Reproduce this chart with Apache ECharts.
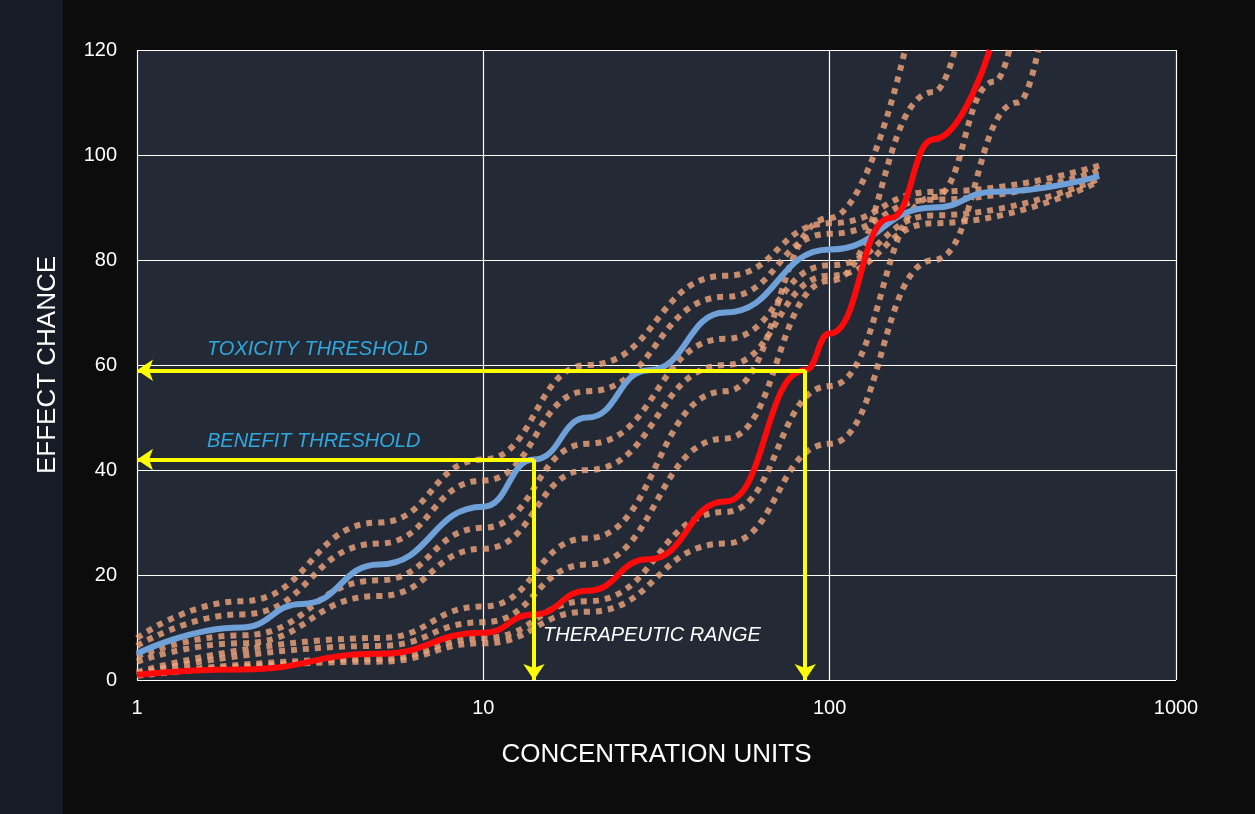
<!DOCTYPE html>
<html><head><meta charset="utf-8">
<script src="https://cdn.jsdelivr.net/npm/echarts@6/dist/echarts.min.js"></script>
<style>html,body{margin:0;padding:0;background:#0c0c0c}#c{width:1255px;height:814px}</style>
</head><body><div id="c"></div>
<script>
// main curves [concentration, effect]
var benefit = [[1,5],[2,10],[3,14.5],[5,22],[10,33],[14,42],[20,50],[30,59],[50,70],[100,82],[200,90],[300,93],[600,96]];
var toxicity = [[1,1],[2,2],[5,5],[10,9],[14,12.5],[20,17],[30,23],[50,34],[85,59],[100,66],[150,88],[200,103],[290,120]];
// spread of individual curves around them
var benefitHigh = [[1,8],[2,15],[5,30],[10,42],[20,60],[50,77],[100,87],[200,93],[600,98]];
var benefitMid1 = [[1,6.5],[2,12.5],[5,26],[10,38],[20,55],[50,73],[100,85],[200,91.5],[600,97]];
var benefitMid2 = [[1,4.5],[2,8.5],[5,19],[10,29],[20,45],[50,65],[100,79],[200,88.5],[600,95.5]];
var benefitLow = [[1,3.5],[2,7],[5,16],[10,25],[20,40],[50,60],[100,77],[200,87],[600,95]];
var toxHigh = [[1,1.5],[5,8],[10,14],[20,27],[50,55],[100,88],[165,120]];
var toxMid1 = [[1,1.2],[5,6.5],[10,11],[20,22],[50,46],[100,76],[200,112],[230,120]];
var toxMid2 = [[1,0.9],[5,4],[10,8],[20,15],[50,32],[100,56],[200,92],[300,114],[330,120]];
var toxLow = [[1,0.8],[5,3.5],[10,7],[20,13],[50,26],[100,45],[200,80],[350,110],[400,120]];
var thresholds = [
  [[14,42],[1,42]], [[14,42],[14,0]],
  [[85,59],[1,59]], [[85,59],[85,0]]
];

var chart = echarts.init(document.getElementById('c'));
function dotted(d){
  return {type:'line', data:d, smooth:0.5, smoothMonotone:'x', symbol:'none', z:2,
    lineStyle:{color:'#f0a57c', width:6, type:'dotted', opacity:0.8}};
}
chart.setOption({
  backgroundColor:'#0c0c0c',
  animation:false,
  grid:{left:137, right:79, top:50, bottom:134, show:true, backgroundColor:'#242a35', borderWidth:0},
  xAxis:{type:'log', min:1, max:1000, logBase:10,
    name:'CONCENTRATION UNITS', nameLocation:'middle', nameGap:62,
    nameTextStyle:{color:'#fff', fontSize:26, fontFamily:'Liberation Sans'},
    axisLine:{show:false}, axisTick:{show:false},
    axisLabel:{color:'#fff', fontSize:20, margin:18, fontFamily:'Liberation Sans',
      formatter:function(v){return String(Math.round(v));}},
    splitLine:{show:true, lineStyle:{color:'#ffffff', width:1.2}}},
  yAxis:{type:'value', min:0, max:120, interval:20,
    name:'EFFECT CHANCE', nameLocation:'middle', nameGap:76,
    nameTextStyle:{color:'#fff', fontSize:26, fontFamily:'Liberation Sans'},
    axisLine:{show:false}, axisTick:{show:false},
    axisLabel:{color:'#fff', fontSize:20, margin:20, fontFamily:'Liberation Sans'},
    splitLine:{lineStyle:{color:'#ffffff', width:1.2}}},
  series:[
    dotted(benefitHigh), dotted(benefitMid1), dotted(benefitMid2), dotted(benefitLow),
    dotted(toxHigh), dotted(toxMid1), dotted(toxMid2), dotted(toxLow),
    {type:'line', data:benefit, smooth:0.5, smoothMonotone:'x', symbol:'none', z:3,
      lineStyle:{color:'#6fa0d8', width:6}},
    {type:'line', data:toxicity, smooth:0.5, smoothMonotone:'x', symbol:'none', z:3,
      lineStyle:{color:'#ff0a0a', width:6}},
    {type:'lines', coordinateSystem:'cartesian2d', z:4,
      symbol:['none','arrow'], symbolSize:[14,16],
      lineStyle:{color:'#ffff00', width:4, opacity:1},
      data:thresholds.map(function(c){return {coords:c};})}
  ],
  graphic:[
    {type:'rect', left:0, top:0, shape:{width:63, height:814}, style:{fill:'#161b26'}, z:-1},
    {type:'text', left:207, top:339, style:{text:'TOXICITY THRESHOLD', fill:'#2fa8e0', fontSize:20, fontStyle:'italic', fontFamily:'Liberation Sans'}},
    {type:'text', left:207, top:431, style:{text:'BENEFIT THRESHOLD', fill:'#2fa8e0', fontSize:20, fontStyle:'italic', fontFamily:'Liberation Sans'}},
    {type:'text', left:543, top:625, style:{text:'THERAPEUTIC RANGE', fill:'#ffffff', fontSize:20, fontStyle:'italic', fontFamily:'Liberation Sans'}}
  ]
});
</script></body></html>
